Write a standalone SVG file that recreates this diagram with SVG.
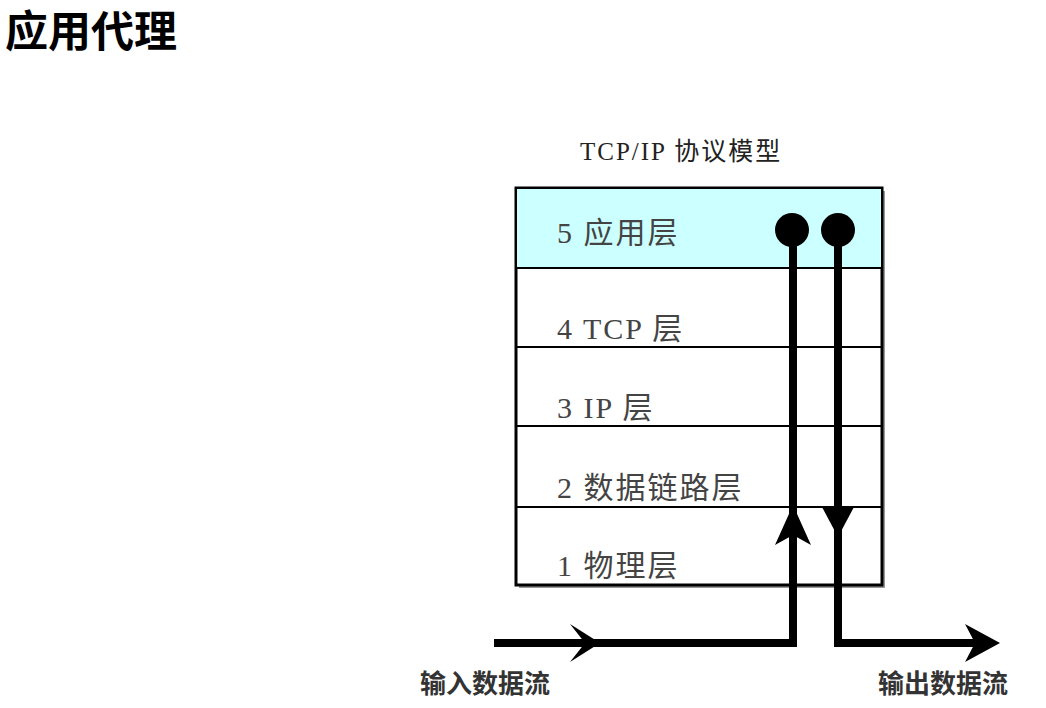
<svg xmlns="http://www.w3.org/2000/svg" width="1046" height="708" viewBox="0 0 1046 708">
<style>
.t{font-family:"Noto Sans CJK SC",sans-serif;font-weight:bold;font-size:43px;fill:#000}
.s{font-family:"Liberation Serif","Noto Sans CJK SC",serif;font-size:30px;fill:#444;letter-spacing:2px}
.c{font-family:"Liberation Serif","Noto Sans CJK SC",serif;font-size:25px;fill:#222;letter-spacing:2px}
.b{font-family:"Noto Sans CJK SC",sans-serif;font-size:26px;font-weight:bold;fill:#333}
.ln{stroke:#000;stroke-width:2;fill:none}
.th{stroke:#000;stroke-width:8;fill:none}
</style>
<rect width="1046" height="708" fill="#fff"/>
<text class="t" x="5" y="47">应用代理</text>
<text class="c" x="580" y="160">TCP/IP 协议模型</text>
<g id="model">
<rect x="519" y="191" width="366" height="397" fill="#999"/>
<rect x="516" y="188" width="366" height="397" fill="#fff" stroke="#000" stroke-width="3"/>
<rect x="517" y="189" width="364" height="79" fill="#ccffff"/>
<line class="ln" x1="516" y1="268" x2="882" y2="268" stroke-width="4"/>
<line class="ln" x1="516" y1="347" x2="882" y2="347"/>
<line class="ln" x1="516" y1="426" x2="882" y2="426"/>
<line class="ln" x1="516" y1="507" x2="882" y2="507"/>
</g>
<g id="l5"><text class="s" x="557" y="243">5 应用层</text></g>
<g id="l4"><text class="s" x="557" y="339">4 TCP 层</text></g>
<g id="l3"><text class="s" x="557" y="418">3 IP 层</text></g>
<g id="l2"><text class="s" x="557" y="498">2 数据链路层</text></g>
<g id="l1"><text class="s" x="557" y="576">1 物理层</text></g>
<g id="connectors">
<circle cx="792" cy="230" r="17"/>
<circle cx="838" cy="230" r="17"/>
<polyline class="th" points="494,643 793,643 793,230"/>
<polyline class="th" points="838,230 838,643 980,643"/>
<polygon points="570,624 600,643 570,662 585,643"/>
<polygon points="793,505 775,545 793,535 811,545"/>
<polygon points="822,507 854,507 838,537"/>
<polygon points="965,624 1000,643 965,662 975,643"/>
</g>
<text class="b" x="420" y="693">输入数据流</text>
<text class="b" x="878" y="693">输出数据流</text>
</svg>
